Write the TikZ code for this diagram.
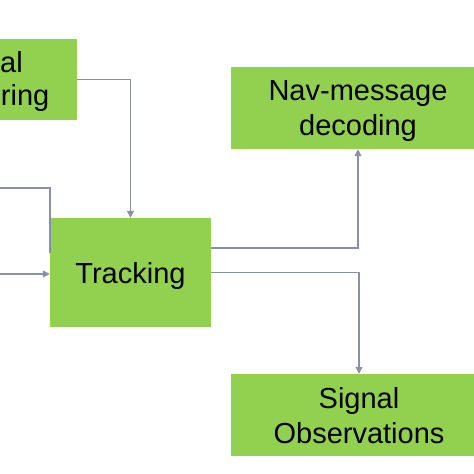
\documentclass[tikz,border=0pt]{standalone}
\usepackage{fontspec}
\setsansfont{Liberation Sans}
\usetikzlibrary{arrows.meta}
\definecolor{leaf}{HTML}{92D050}
\definecolor{wire}{HTML}{8A90AA}

\begin{document}
\begin{tikzpicture}[x=1pt,y=-1pt,font=\sffamily,
    >={Triangle[width=7pt,length=7pt]},
    block/.style={fill=leaf,draw=none,inner sep=0pt,align=center,
      text depth=0pt,font=\sffamily\fontsize{29}{35}\selectfont},
    cut/.style={inner sep=0pt,font=\sffamily\fontsize{29}{35}\selectfont},
    link/.style={draw=wire,line width=1.2pt}]
  \useasboundingbox (0,0) rectangle (474,474);

  % Blocks; the left and right ones run past the frame.
  \node[block,minimum width=177pt,minimum height=81pt] (filt) at (-11.5,79.5) {};
  \node[cut,anchor=base east] (filtA) at (23,72) {al};
  \node[cut,anchor=base east] (filtB) at (49.5,105) {ring};
  \node[block,minimum width=161pt,minimum height=109pt] (track) at (130.5,272.5)
    {Tracking};
  \node[block,minimum width=254pt,minimum height=82pt] (nav) at (358,108)
    {Nav-message\\decoding};
  \node[block,minimum width=256pt,minimum height=82pt] (obs) at (359,415)
    {Signal\\Observations};

  % Inputs from the left edge.
  \coordinate (inA) at (0,188);
  \coordinate (inAend) at (50,253);
  \coordinate (inB) at (0,274);
  \draw[link] (inA) -| (inAend);
  \draw[link,->] (inB) -- (inB -| track.west);
  \draw[link,->] (filt.east) -| (track.north);

  % Outputs of the tracking block.
  \draw[link,->] ([yshift=24.5pt]track.east) -| (nav.south);
  \draw[link,->] (track.east) -| (obs.north);
\end{tikzpicture}
\end{document}
